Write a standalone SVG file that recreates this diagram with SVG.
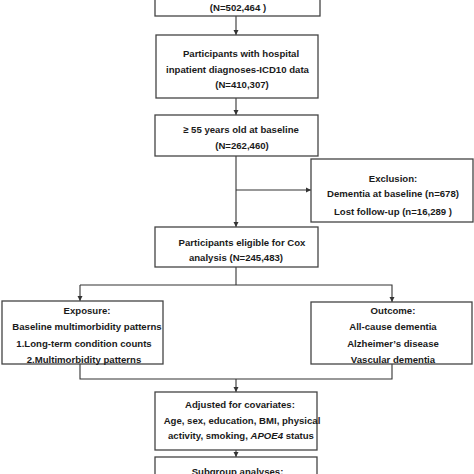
<svg xmlns="http://www.w3.org/2000/svg" width="474" height="474" viewBox="0 0 474 474">
<defs>
<style>
.box{fill:#fff;stroke:#444;stroke-width:1.3}
.ln{fill:none;stroke:#333;stroke-width:1.1}
text{font-family:"Liberation Sans",Arial,sans-serif;font-weight:bold;font-size:9.6px;fill:#1a1a1a;text-anchor:middle}
</style>
<marker id="ah" viewBox="0 0 6 6" refX="6" refY="3" markerWidth="5" markerHeight="5" orient="auto">
<path d="M0,0 L6,3 L0,6 z" fill="#333"/>
</marker>
</defs>
<rect width="474" height="474" fill="#fff"/>
<g id="connectors">
<line class="ln" x1="236" y1="16" x2="236" y2="35" marker-end="url(#ah)"/>
<line class="ln" x1="236" y1="98" x2="236" y2="115" marker-end="url(#ah)"/>
<line class="ln" x1="236" y1="156" x2="236" y2="227" marker-end="url(#ah)"/>
<line class="ln" x1="236" y1="190" x2="311" y2="190" marker-end="url(#ah)"/>
<line class="ln" x1="236" y1="267" x2="236" y2="285"/>
<polyline class="ln" points="80,285 392,285 392,302" marker-end="url(#ah)"/>
<line class="ln" x1="80" y1="285" x2="80" y2="301" marker-end="url(#ah)"/>
<polyline class="ln" points="80,364 80,379 392,379 392,364"/>
<line class="ln" x1="236" y1="379" x2="236" y2="392" marker-end="url(#ah)"/>
<line class="ln" x1="236" y1="450" x2="236" y2="457" marker-end="url(#ah)"/>
</g>
<g id="n1"><rect class="box" x="155" y="-10" width="165" height="26"/><text x="238" y="10.5">(N=502,464 )</text></g>
<g id="n2"><rect class="box" x="156" y="35" width="162" height="63"/>
<text x="241" y="56.5">Participants with hospital</text>
<text x="237.5" y="72.5">inpatient diagnoses-ICD10 data</text>
<text x="242" y="87.5">(N=410,307)</text></g>
<g id="n3"><rect class="box" x="155" y="115" width="163" height="41"/>
<text x="241" y="132.5">≥ 55 years old at baseline</text>
<text x="242" y="148.5">(N=262,460)</text></g>
<g id="n4"><rect class="box" x="311" y="159" width="162" height="63"/>
<text x="393" y="181.5">Exclusion:</text>
<text x="393" y="196.5">Dementia at baseline (n=678)</text>
<text x="393" y="214.5">Lost follow-up (n=16,289 )</text></g>
<g id="n5"><rect class="box" x="155" y="227" width="163" height="40"/>
<text x="242" y="245.5">Participants eligible for Cox</text>
<text x="236" y="260.5">analysis (N=245,483)</text></g>
<g id="n6"><rect class="box" x="2" y="301" width="161" height="63"/>
<text x="87" y="313.5">Exposure:</text>
<text x="87" y="329.5">Baseline multimorbidity patterns</text>
<text x="84" y="346.5">1.Long-term condition counts</text>
<text x="84" y="362.5">2.Multimorbidity patterns</text></g>
<g id="n7"><rect class="box" x="311" y="302" width="161" height="62"/>
<text x="393" y="313.5">Outcome:</text>
<text x="393" y="329.5">All-cause dementia</text>
<text x="393" y="346.5">Alzheimer’s disease</text>
<text x="393" y="362.5">Vascular dementia</text></g>
<g id="n8"><rect class="box" x="155" y="392" width="162" height="58"/>
<text x="240" y="407.5">Adjusted for covariates:</text>
<text x="242" y="423.5">Age, sex, education, BMI, physical</text>
<text x="241" y="438.5">activity, smoking, <tspan font-style="italic">APOE4</tspan> status</text></g>
<g id="n9"><rect class="box" x="155" y="457" width="162" height="30"/>
<text x="237.5" y="475">Subgroup analyses:</text></g>
</svg>
